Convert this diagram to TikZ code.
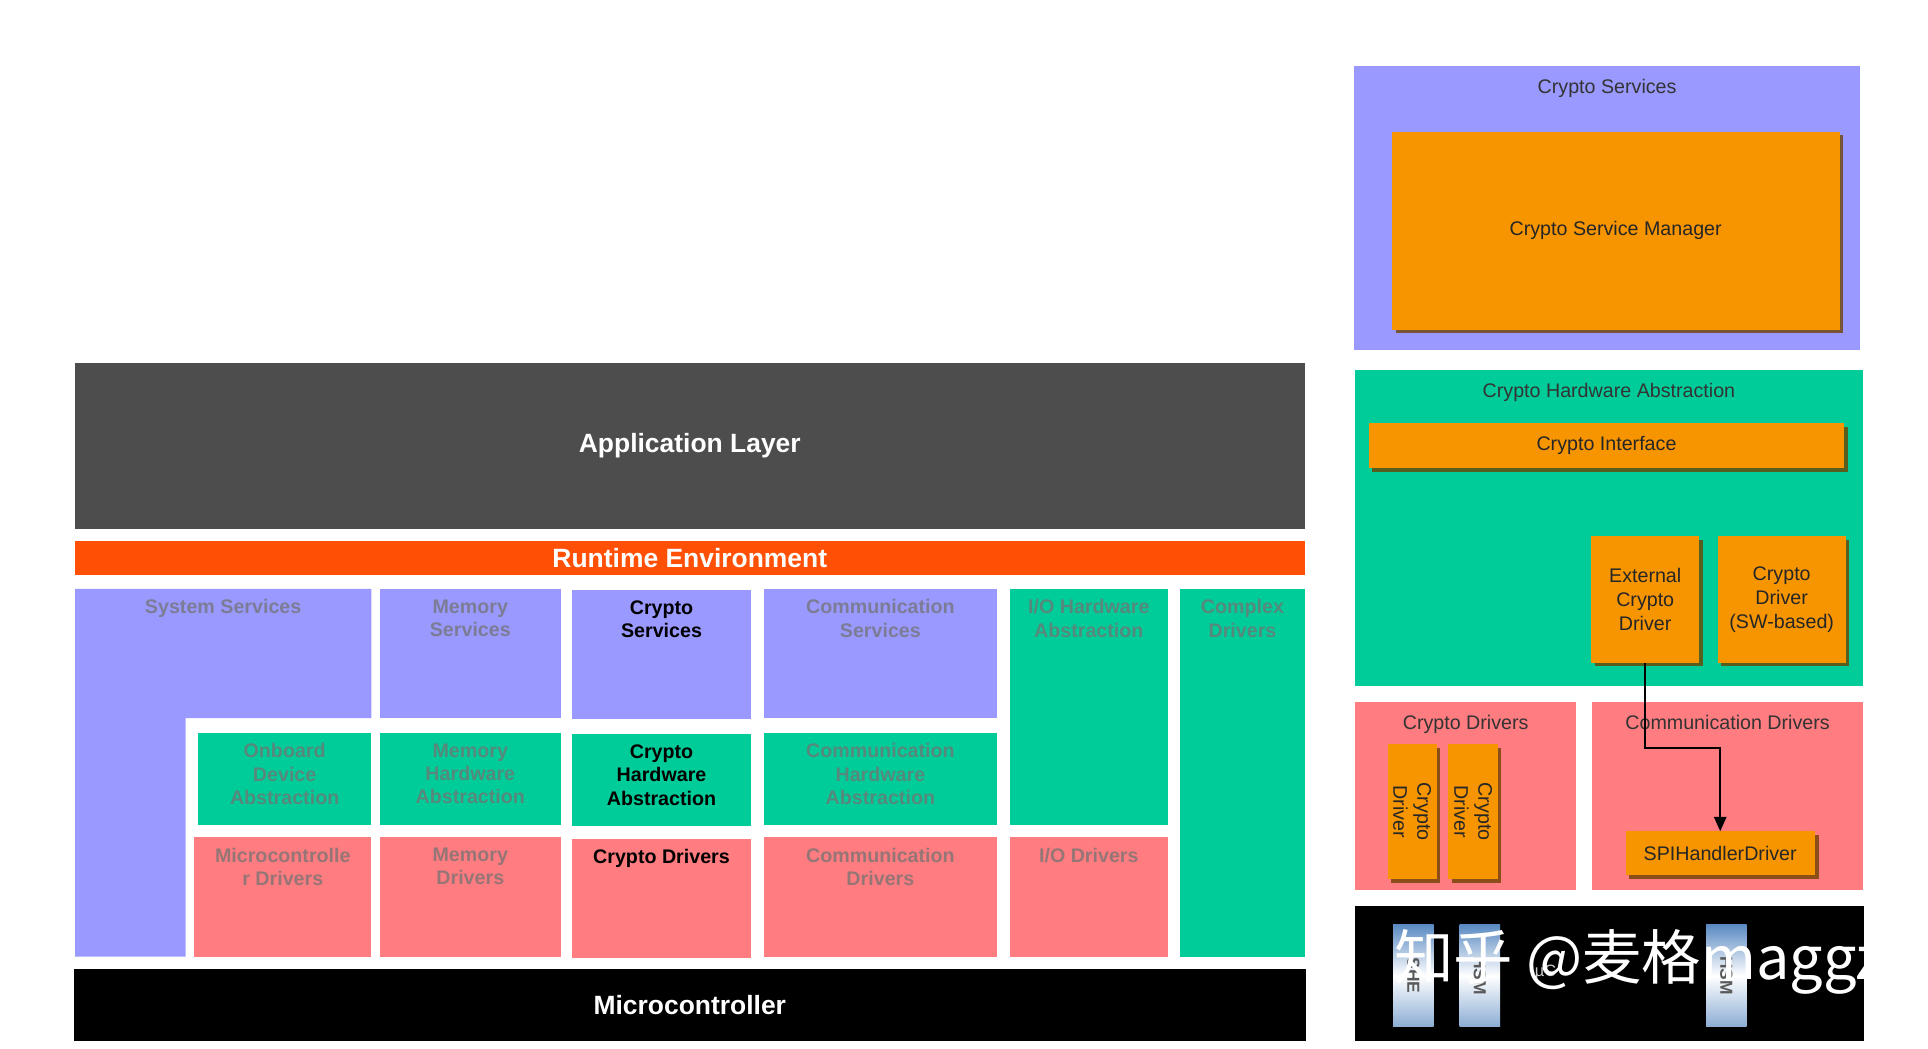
\documentclass[tikz,border=0pt]{standalone}
\usepackage{fontspec}
\setmainfont{Liberation Sans}
\newfontfamily\cjkfont{Noto Sans CJK SC}
\usetikzlibrary{arrows.meta,positioning,shadows}
\definecolor{arapp}{HTML}{4D4D4D}
\definecolor{arrte}{HTML}{FF5005}
\definecolor{arsvc}{HTML}{9999FF}
\definecolor{arhwa}{HTML}{00CC99}
\definecolor{ardrv}{HTML}{FF7C80}
\definecolor{arorg}{HTML}{F79500}
\definecolor{arbar}{HTML}{5A8AC2}

\begin{document}
\begin{tikzpicture}[x=0.6pt,y=-0.6pt,
  blk/.style 2 args={minimum width=#1*0.6pt,minimum height=#2*0.6pt,
                     inner sep=0pt,outer sep=0pt},
  big/.style={font=\bfseries\fontsize{12.9}{15}\selectfont,text=white},
  ttl/.style={anchor=north,align=center,inner sep=0pt,yshift=-5pt,
              font=\bfseries\fontsize{9.6}{11.4}\selectfont},
  dim/.style={text=black!55,text opacity=.75},
  rtl/.style={anchor=north,align=center,inner sep=0pt,yshift=-6pt,
              font=\fontsize{9.6}{11.7}\selectfont,text=black!80},
  mod/.style={fill=arorg,align=center,font=\fontsize{9.6}{11.7}\selectfont,
              text=black!85,drop shadow={shadow xshift=1.8pt,shadow yshift=-1.8pt,
              fill=arorg!45!black,opacity=.8}},
  vlab/.style={rotate=-90,align=center,inner sep=0pt,
               font=\fontsize{9.6}{11.7}\selectfont,text=black!85},
  bar/.style={blk={33}{83},top color=arbar,bottom color=arbar!70,middle color=white},
  blab/.style={rotate=-90,inner sep=0pt,font=\bfseries\fontsize{8.5}{10}\selectfont,
               text=black!65},
  >={Triangle[length=7pt,width=6pt]}]
\useasboundingbox (0,0) rectangle (1568,853);

% layered architecture
\node[blk={1000}{135},fill=arapp,big] (app) at (561,362.5) {Application Layer};
\node[blk={1000}{28},fill=arrte,big] (rte) at (561,454) {Runtime Environment};
\fill[arsvc] (61,479) -| (302,584) -| (151,778) -| cycle;
\node[ttl,dim] (syssrv) at (181.5,479) {System Services};
\node[blk={147}{105},fill=arsvc,label={[ttl,dim]north:{Memory\\Services}}] (memsrv) at (382.5,531.5) {};
\node[blk={146}{105},fill=arsvc,label={[ttl]north:{Crypto\\Services}}] (cysrv) at (538,532.5) {};
\node[blk={190}{105},fill=arsvc,label={[ttl,dim]north:{Communication\\Services}}] (comsrv) at (716,531.5) {};
\node[blk={129}{192},fill=arhwa,label={[ttl,dim]north:{I/O Hardware\\Abstraction}}] (iohwa) at (885.5,575) {};
\node[blk={101}{299},fill=arhwa,label={[ttl,dim]north:{Complex\\Drivers}}] (cdd) at (1010.5,628.5) {};
\node[blk={141}{75},fill=arhwa,label={[ttl,dim]north:{Onboard\\Device\\Abstraction}}] (onbrd) at (231.5,633.5) {};
\node[blk={147}{75},fill=arhwa,label={[ttl,dim]north:{Memory\\Hardware\\Abstraction}}] (memhwa) at (382.5,633.5) {};
\node[blk={146}{75},fill=arhwa,label={[ttl]north:{Crypto\\Hardware\\Abstraction}}] (cyhwa) at (538,634.5) {};
\node[blk={190}{75},fill=arhwa,label={[ttl,dim]north:{Communication\\Hardware\\Abstraction}}] (comhwa) at (716,633.5) {};
\node[blk={144}{97},fill=ardrv,label={[ttl,dim]north:{Microcontrolle\\r Drivers}}] (mcudrv) at (230,729.5) {};
\node[blk={147}{97},fill=ardrv,label={[ttl,dim]north:{Memory\\Drivers}}] (memdrv) at (382.5,729.5) {};
\node[blk={146}{97},fill=ardrv,label={[ttl]north:{Crypto Drivers}}] (cydrv) at (538,730.5) {};
\node[blk={190}{97},fill=ardrv,label={[ttl,dim]north:{Communication\\Drivers}}] (comdrv) at (716,729.5) {};
\node[blk={129}{97},fill=ardrv,label={[ttl,dim]north:{I/O Drivers}}] (iodrv) at (885.5,729.5) {};
\node[blk={1002}{59},fill=black,big] (mcu) at (561,817.5) {Microcontroller};

% crypto stack detail
\node[blk={412}{231},fill=arsvc,label={[rtl]north:{Crypto Services}}] (csvc) at (1307,169.5) {};
\node[blk={364}{161},mod] (csm) at (1314,187.5) {Crypto Service Manager};
\node[blk={413}{257},fill=arhwa,label={[rtl]north:{Crypto Hardware Abstraction}}] (chwa) at (1308.5,429.5) {};
\node[blk={387}{37},mod] (cif) at (1306.5,362.5) {Crypto Interface};
\node[blk={88}{103},mod] (extdrv) at (1338,487.5) {External\\Crypto\\Driver};
\node[blk={104}{103},mod] (swdrv) at (1449,487.5) {Crypto\\Driver\\(SW-based)};
\node[blk={180}{153},fill=ardrv,label={[rtl]north:{Crypto Drivers}}] (cdrv) at (1192,647.5) {};
\node[blk={40}{110},mod,label={[vlab]center:{Crypto\\Driver}}] (cd1) at (1148.5,660) {};
\node[blk={40}{110},mod,label={[vlab]center:{Crypto\\Driver}}] (cd2) at (1198,660) {};
\node[blk={220}{153},fill=ardrv,label={[rtl]north:{Communication Drivers}}] (cmdrv) at (1405,647.5) {};
\node[blk={154}{36},mod] (spi) at (1399,694) {SPIHandlerDriver};
\node[blk={414}{110},fill=black] (hw) at (1309,792) {};
\node[bar,label={[blab]center:SHE}] (she) at (1149.5,793.5) {};
\node[bar,label={[blab]center:HSM}] (hsm) at (1203.5,793.5) {};
\node[font=\fontsize{8}{9}\selectfont,text=white!80!black] (uc) at (1257,791) {µC};
\node[bar,label={[blab]center:HSM}] (exthsm) at (1404,793.5) {};

\coordinate (bend) at (1399,608);
\draw[->,line width=0.9pt] (extdrv.south) |- (bend) -- (spi.north);

\node[font=\cjkfont\fontsize{29}{30}\selectfont,text=white] (wm) at (1333,782) {知乎 @麦格maggz};
\end{tikzpicture}
\end{document}
